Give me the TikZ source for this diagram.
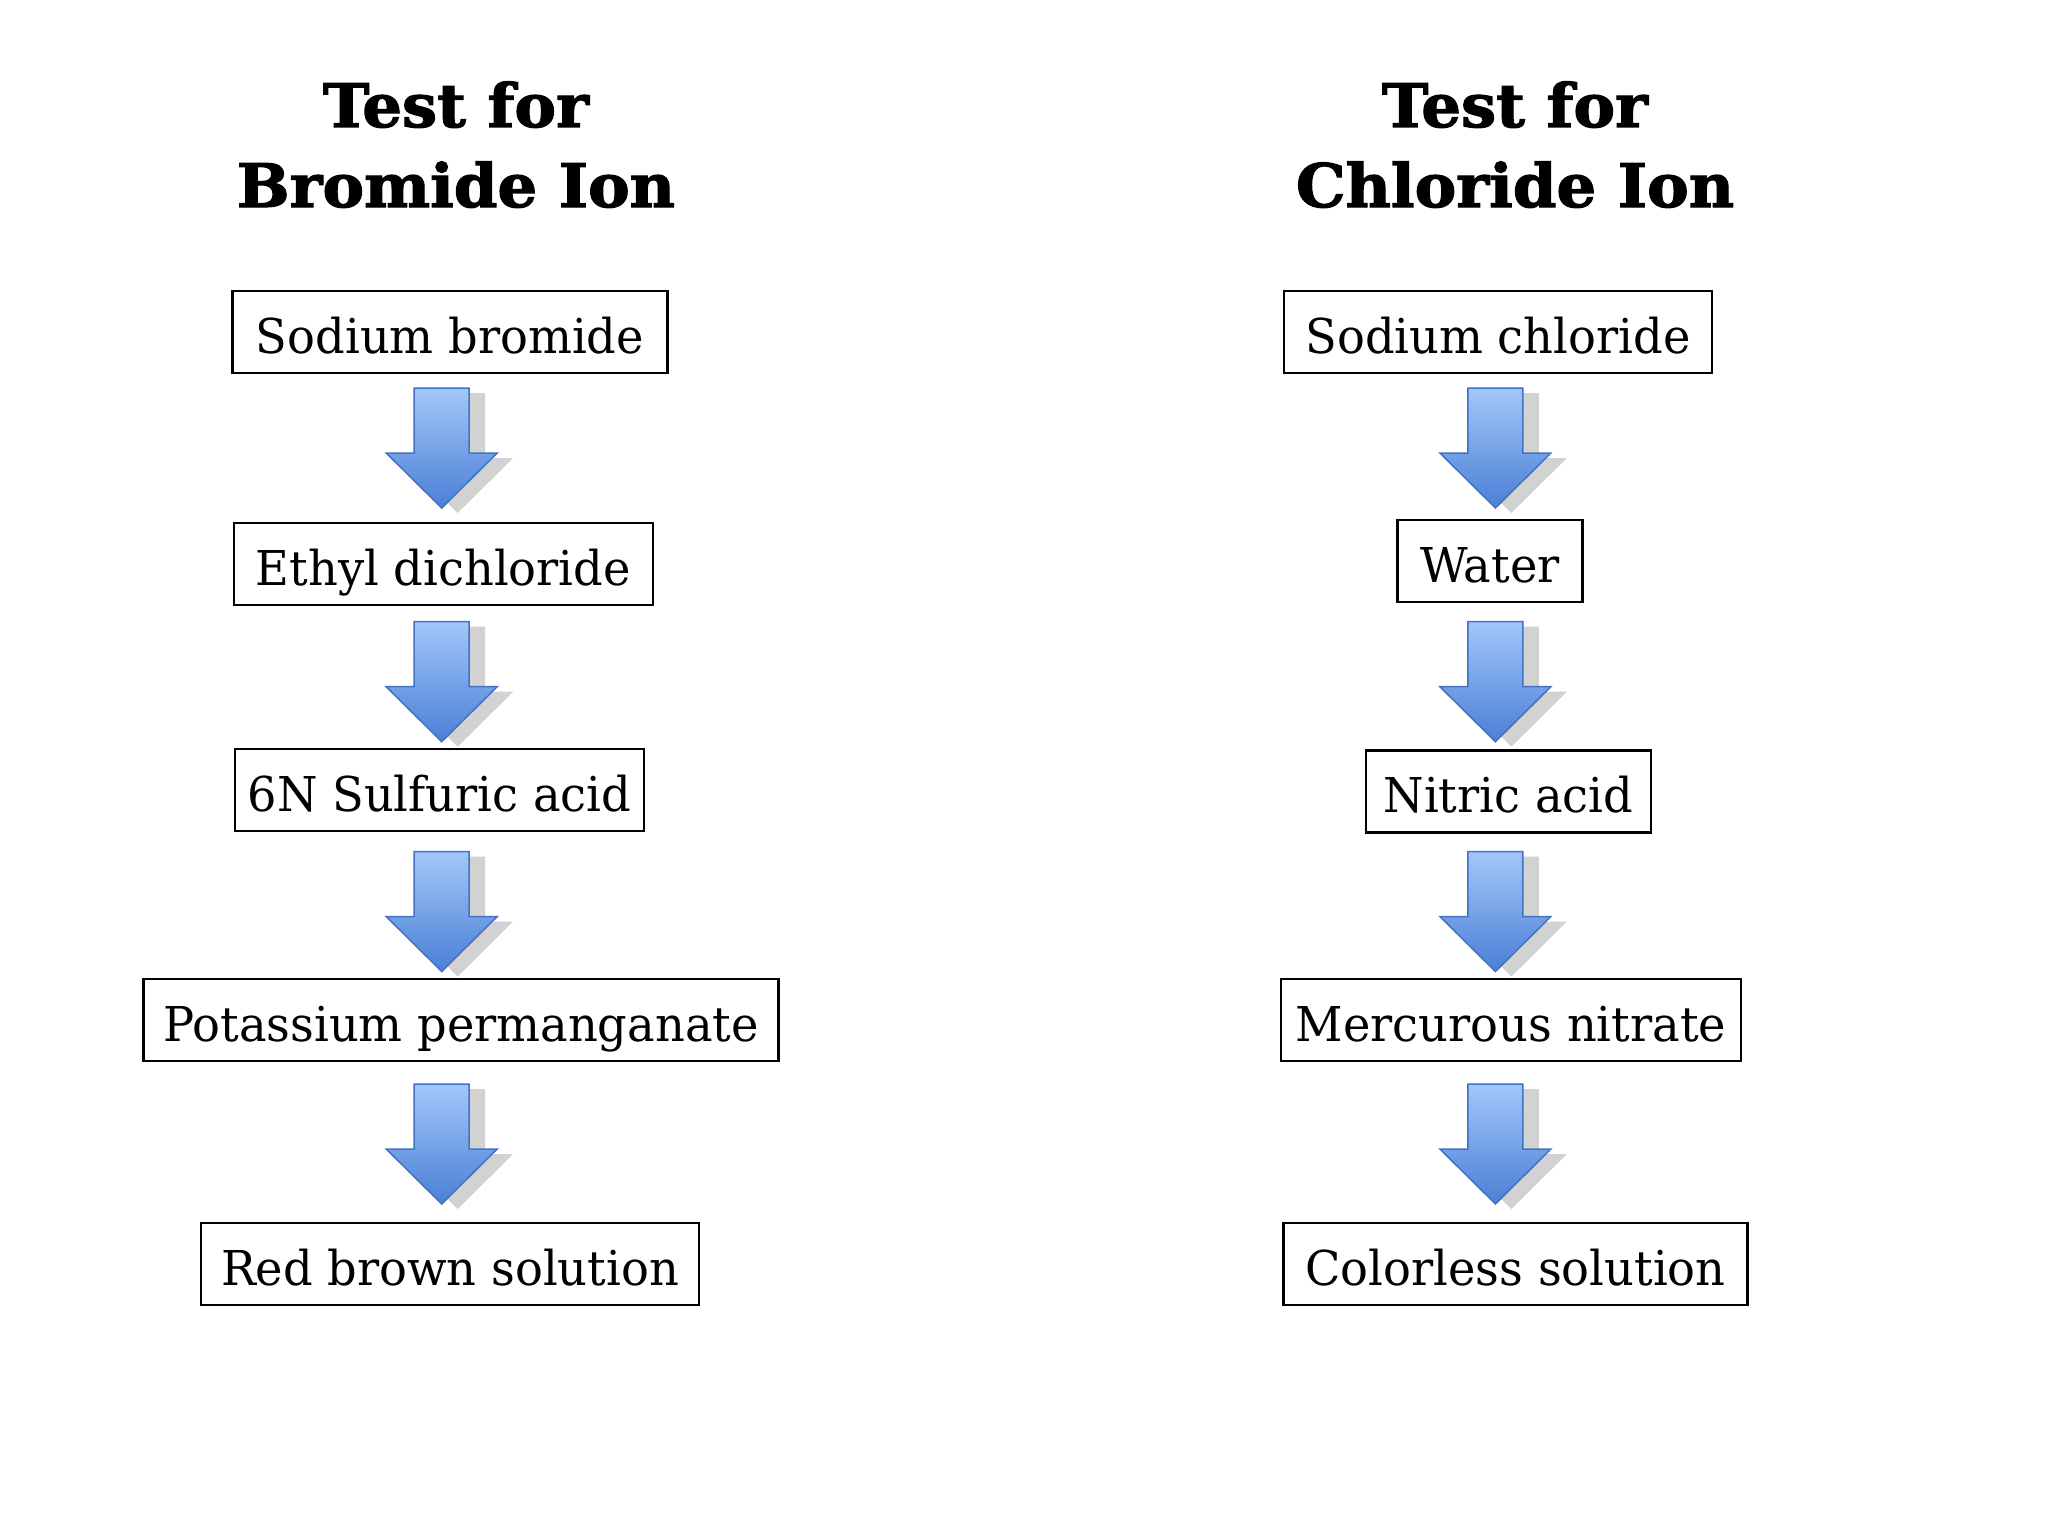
\documentclass[tikz,border=0pt]{standalone}
\usepackage{fontspec}
\setmainfont{DejaVu Serif}[FakeStretch=0.965]
\newfontfamily\titlefont{DejaVu Serif Bold}[FakeBold=2, FakeStretch=1.04]
\definecolor{arrowtop}{HTML}{A3C6FA}
\definecolor{arrowbot}{HTML}{4A80D6}
\definecolor{arrowline}{HTML}{4272C4}
\definecolor{shadowgray}{HTML}{D2D2D2}
\tikzset{
  stepbox/.style={draw=black, line width=2.5pt, fill=white, inner sep=0pt,
    text height=46pt, text depth=4pt, minimum height=82pt,
    font=\fontsize{48}{52}\selectfont},
  titletext/.style={anchor=base, inner sep=0pt, font=\titlefont\fontsize{60}{70}\selectfont},
  arrowbody/.style={top color=arrowtop, bottom color=arrowbot, draw=arrowline, line width=1.5pt, line join=miter},
  arrowshadow/.style={fill=shadowgray}
}
\newcommand\blockarrow[2]{%
  \begin{scope}[shift={(#1,#2)}]
    \fill[arrowshadow] (-11.5,5) -- (43.5,5) -- (43.5,70) -- (71.5,70) -- (16,125) -- (-39.5,70) -- (-11.5,70) -- cycle;
    \shade[arrowbody] (-27.5,0) -- (27.5,0) -- (27.5,65) -- (55.5,65) -- (0,120) -- (-55.5,65) -- (-27.5,65) -- cycle;
  \end{scope}}
\begin{document}
\begin{tikzpicture}[x=1pt,y=-1pt]
  \useasboundingbox[fill=white] (0,0) rectangle (2048,1536);
  % titles
  \node[titletext] (tb1) at (456,127) {Test for};
  \node[titletext] (tb2) at (456,207) {Bromide Ion};
  \node[titletext] (tc1) at (1515,127) {Test for};
  \node[titletext] (tc2) at (1515,207) {Chloride Ion};
  % arrows left
  \blockarrow{441.7}{388}
  \blockarrow{441.7}{621.7}
  \blockarrow{441.7}{851.5}
  \blockarrow{441.7}{1084}
  % arrows right
  \blockarrow{1495.4}{388}
  \blockarrow{1495.4}{621.7}
  \blockarrow{1495.4}{851.5}
  \blockarrow{1495.4}{1084}
  % left boxes
  \node[stepbox, minimum width=435pt] (b1) at (450,332) {Sodium bromide};
  \node[stepbox, minimum width=419pt] (b2) at (443.4,564) {Ethyl dichloride};
  \node[stepbox, minimum width=409pt] (b3) at (439.5,790) {6N Sulfuric acid};
  \node[stepbox, minimum width=635pt] (b4) at (461,1020) {Potassium permanganate};
  \node[stepbox, minimum width=498pt] (b5) at (450,1264) {Red brown solution};
  % right boxes
  \node[stepbox, minimum width=428pt] (c1) at (1498,332) {Sodium chloride};
  \node[stepbox, minimum width=185pt] (c2) at (1490,561) {Water};
  \node[stepbox, minimum width=285pt] (c3) at (1508.4,791.5) {Nitric acid};
  \node[stepbox, minimum width=460pt] (c4) at (1511,1020) {Mercurous nitrate};
  \node[stepbox, minimum width=464pt] (c5) at (1515.6,1264) {Colorless solution};
\end{tikzpicture}
\end{document}
